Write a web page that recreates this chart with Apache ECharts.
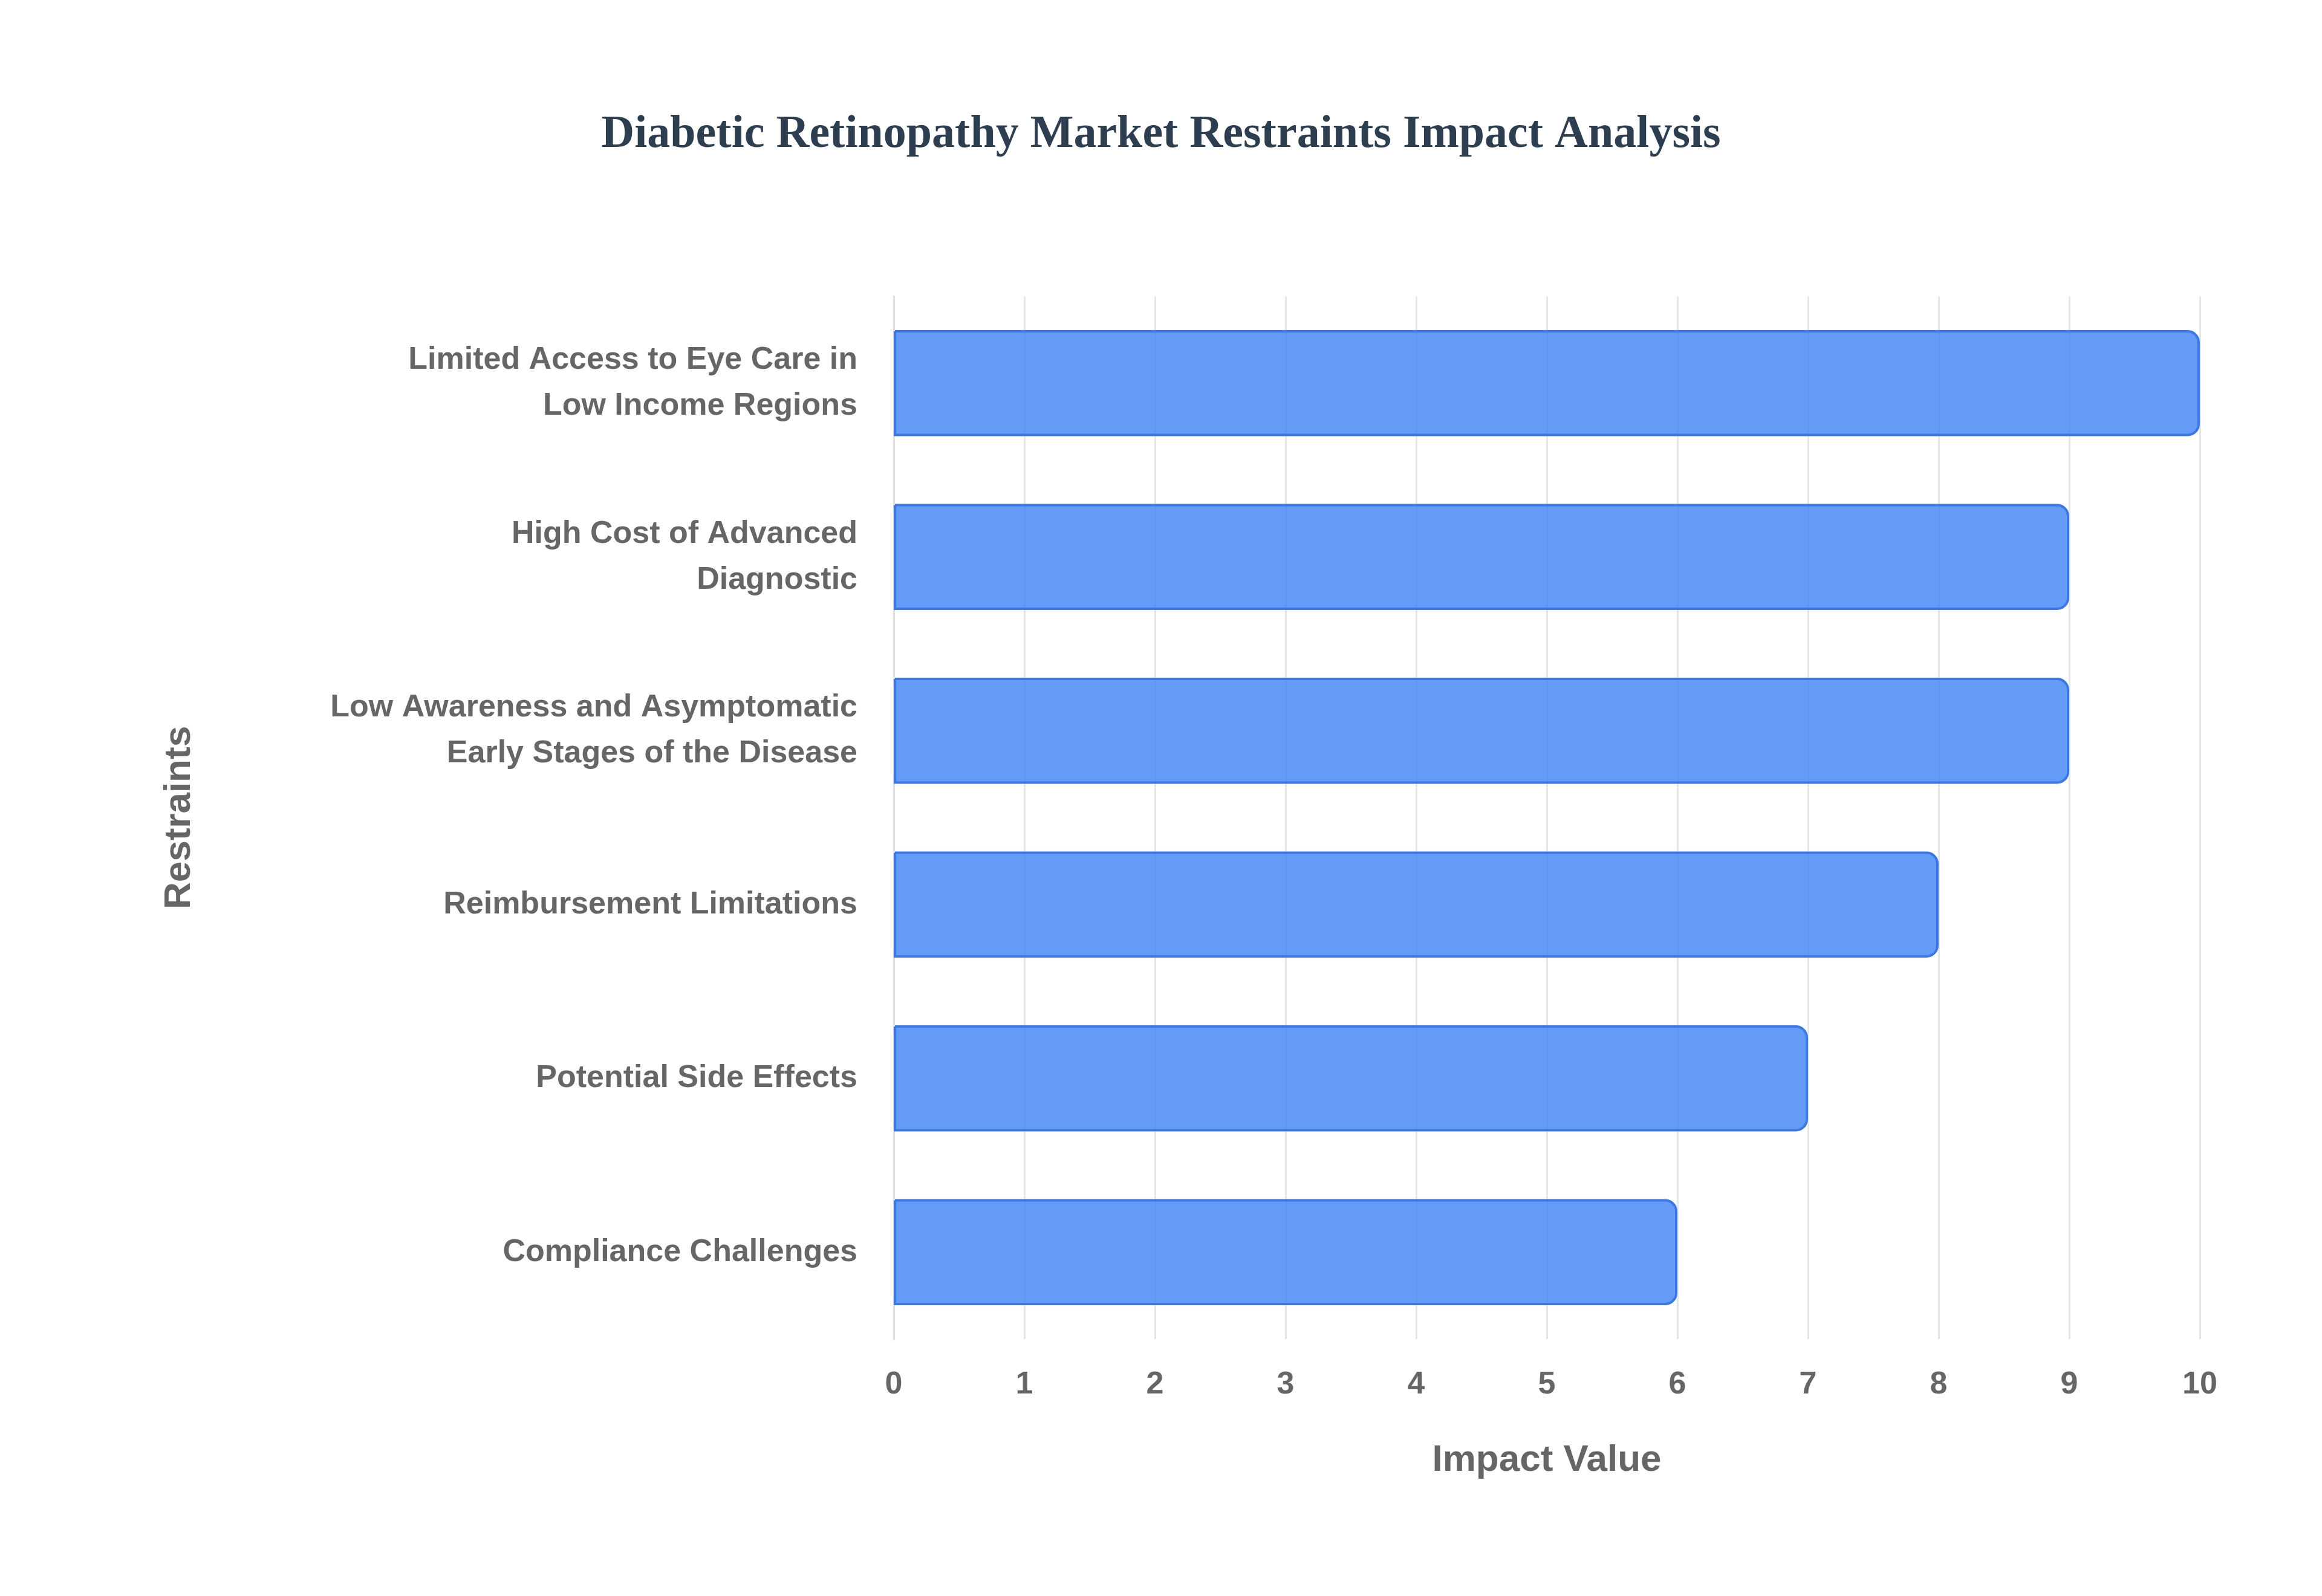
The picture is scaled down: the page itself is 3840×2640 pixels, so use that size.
<!DOCTYPE html>
<html>
<head>
<meta charset="utf-8">
<script src="https://cdn.jsdelivr.net/npm/echarts@6/dist/echarts.min.js"></script>
<style>html,body{margin:0;padding:0;background:#fff}#chart{width:3840px;height:2640px}</style>
</head>
<body>
<div id="chart"></div>
<script>
// bottom to top
const restraints = [
  'Compliance Challenges',
  'Potential Side Effects',
  'Reimbursement Limitations',
  'Low Awareness and Asymptomatic\nEarly Stages of the Disease',
  'High Cost of Advanced\nDiagnostic',
  'Limited Access to Eye Care in\nLow Income Regions'
];
const impactValues = [6, 7, 8, 9, 9, 10];
const xTicks = [0, 10, 1];

let chart = echarts.init(document.getElementById('chart'));
chart.setOption({
  backgroundColor: '#fff',
  title: {
    text: 'Diabetic Retinopathy Market Restraints Impact Analysis',
    left: 'center',
    top: 180,
    textStyle: { fontFamily: 'Liberation Serif', fontWeight: 'bold', fontSize: 76, color: '#2c3e50' }
  },
  grid: { left: 1478, right: 202, top: 490, bottom: 425 },
  xAxis: {
    type: 'value',
    min: xTicks[0], max: xTicks[1], interval: xTicks[2],
    name: 'Impact Value',
    nameLocation: 'middle',
    nameGap: 170,
    nameTextStyle: { fontFamily: 'Liberation Sans', fontWeight: 'bold', fontSize: 62, color: '#666' },
    axisLine: { show: false },
    axisTick: { show: false },
    axisLabel: { fontFamily: 'Liberation Sans', fontWeight: 'bold', fontSize: 52, color: '#666', margin: 50 },
    splitLine: { lineStyle: { color: '#e6e6e6', width: 3 } }
  },
  yAxis: {
    type: 'category',
    data: restraints,
    name: 'Restraints',
    nameLocation: 'middle',
    nameGap: 1150,
    nameTextStyle: { fontFamily: 'Liberation Sans', fontWeight: 'bold', fontSize: 62, color: '#666' },
    axisLine: { lineStyle: { color: '#e0e0e0', width: 3 } },
    axisTick: { show: false },
    axisLabel: { fontFamily: 'Liberation Sans', fontWeight: 'bold', fontSize: 52, color: '#666', margin: 60, lineHeight: 76, align: 'right' }
  },
  series: [{
    type: 'bar',
    data: impactValues,
    barWidth: '61%',
    itemStyle: {
      color: 'rgba(66,133,244,0.82)',
      borderColor: '#3b78e7',
      borderWidth: 4,
      borderRadius: [0, 18, 18, 0]
    }
  }]
});
</script>
</body>
</html>
